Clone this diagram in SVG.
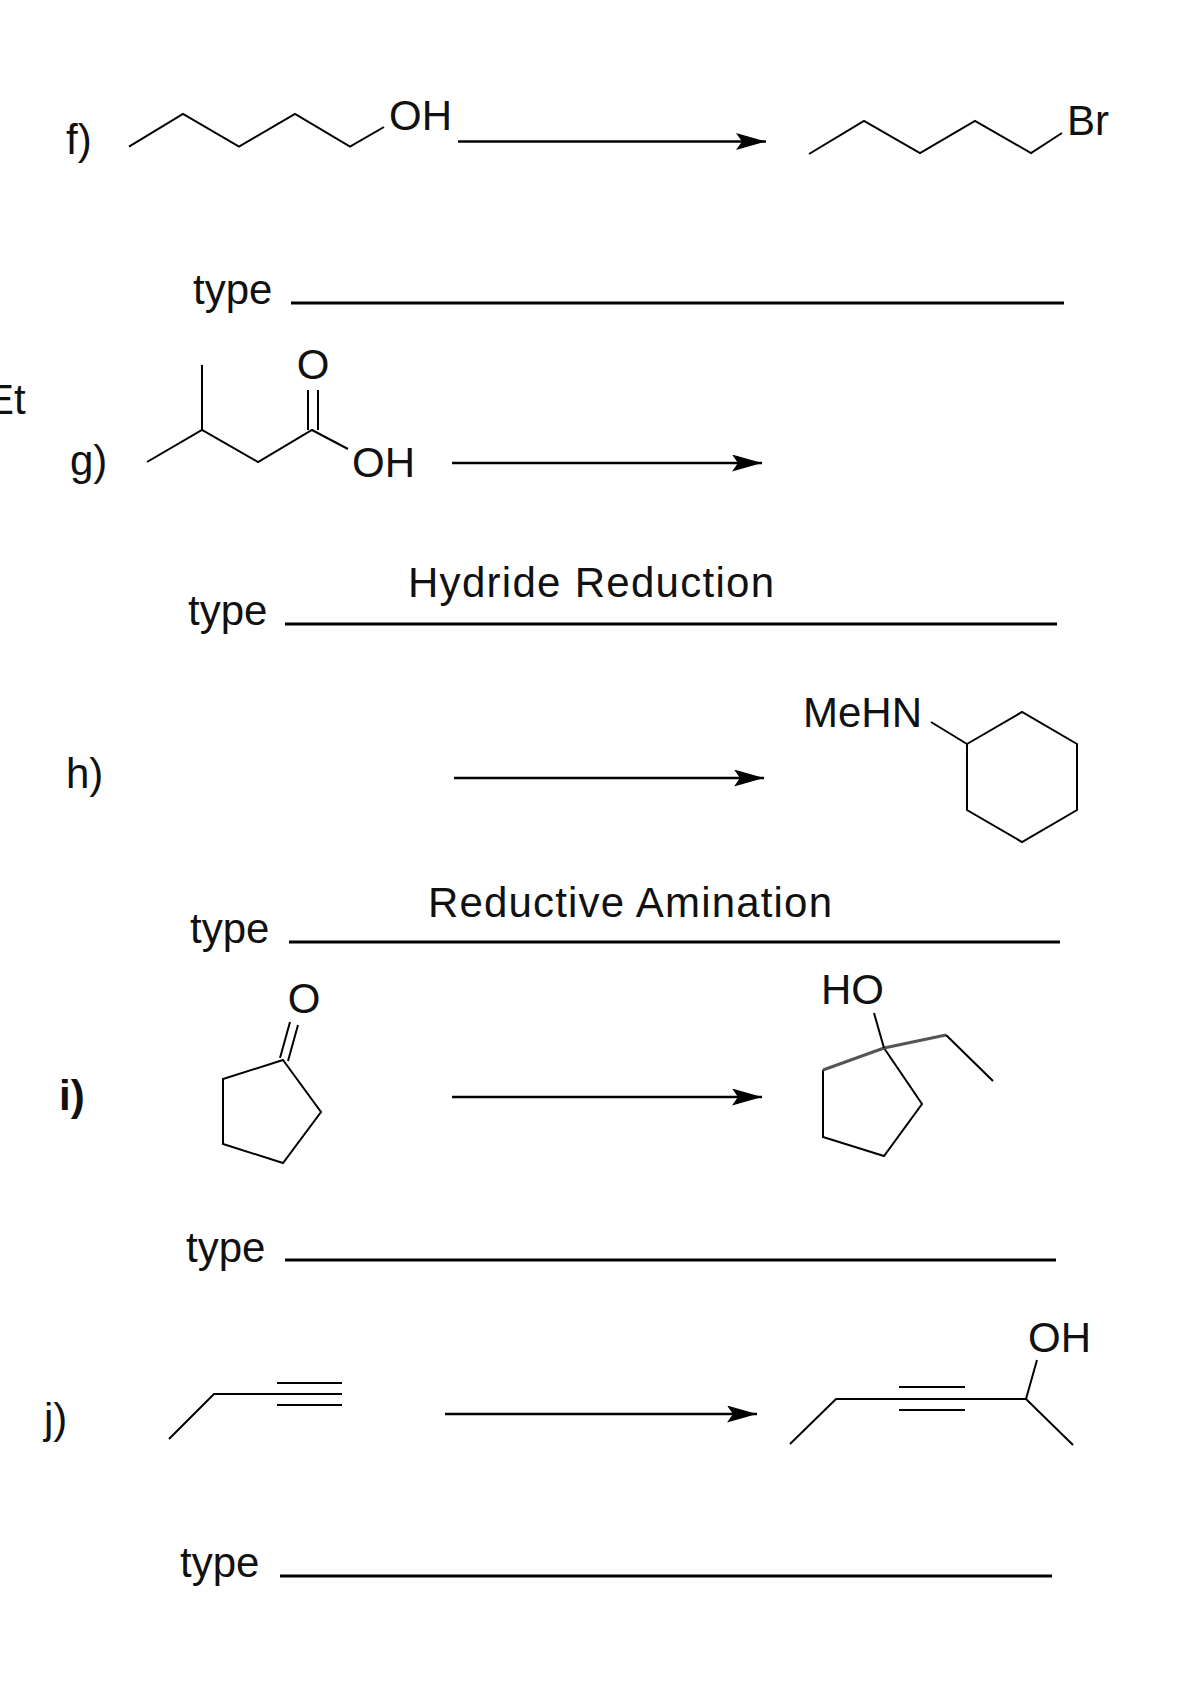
<svg xmlns="http://www.w3.org/2000/svg" width="1186" height="1708" viewBox="0 0 1186 1708">
<defs>
<marker id="ah" viewBox="0 0 10 10" refX="10" refY="5" markerWidth="30" markerHeight="17" markerUnits="userSpaceOnUse" orient="auto" preserveAspectRatio="none"><path d="M0,0 L10,5 L0,10 L2,5 z" fill="#000"/></marker>
</defs>
<style>
text{font-family:"Liberation Sans",Arial,sans-serif;font-size:42px;fill:#111}
.b{fill:none;stroke:#000;stroke-width:2;stroke-linejoin:miter}
.t{stroke:#000;stroke-width:3}
.a{stroke:#000;stroke-width:2.5;marker-end:url(#ah)}
</style>
<rect width="1186" height="1708" fill="#fff"/>
<g id="connectors">
<line class="a" x1="458" y1="141.5" x2="766" y2="141.5"/>
<line class="a" x1="452" y1="463" x2="762" y2="463"/>
<line class="a" x1="454" y1="778" x2="764" y2="778"/>
<line class="a" x1="452" y1="1097" x2="762" y2="1097"/>
<line class="a" x1="445" y1="1414" x2="757" y2="1414"/>
</g>
<g id="f">
<text x="66" y="154">f)</text>
<polyline class="b" points="129,146.6 183,114 239,146.6 295,114 350,146.6 384,127"/>
<text x="389" y="130">OH</text>
<polyline class="b" points="809,154 864,121 920,153 975,121 1031,153 1062,133"/>
<text x="1067" y="135">Br</text>
<text x="193" y="304" font-size="43">type</text>
<line class="t" x1="291" y1="303" x2="1064" y2="303"/>
</g>
<text x="-14" y="414">Et</text>
<g id="g">
<text x="70" y="475">g)</text>
<polyline class="b" points="147,462 202,430 258,462 312,430 348,449"/>
<line class="b" x1="202" y1="365" x2="202" y2="430"/>
<line class="b" x1="308" y1="390" x2="308" y2="430"/>
<line class="b" x1="318" y1="390" x2="318" y2="430"/>
<text x="313" y="379" text-anchor="middle">O</text>
<text x="352" y="477">OH</text>
<text x="408" y="597" textLength="366">Hydride Reduction</text>
<text x="188" y="625" font-size="43">type</text>
<line class="t" x1="285" y1="624" x2="1057" y2="624"/>
</g>
<g id="h">
<text x="66" y="788">h)</text>
<text x="803" y="727">MeHN</text>
<line class="b" x1="931" y1="722" x2="967" y2="744"/>
<polygon class="b" points="967,744 1022,712 1077,744 1077,810 1022,842 967,810"/>
<text x="428" y="917" textLength="404">Reductive Amination</text>
<text x="190" y="943" font-size="43">type</text>
<line class="t" x1="289" y1="942" x2="1060" y2="942"/>
</g>
<g id="i">
<text x="59" y="1110" font-weight="bold">i)</text>
<polygon class="b" points="283,1060 321,1112 283,1163 223,1144 223,1079"/>
<line class="b" x1="280" y1="1058" x2="290" y2="1022"/>
<line class="b" x1="288" y1="1061" x2="298" y2="1025"/>
<text x="304" y="1013" text-anchor="middle">O</text>
<polyline class="b" points="884,1048 922,1104 884,1156 823,1137 823,1070"/>
<polyline fill="none" stroke="#555" stroke-width="3" points="823,1070 884,1048 946,1035"/>
<line class="b" x1="946" y1="1035" x2="993" y2="1081"/>
<line class="b" x1="884" y1="1048" x2="874" y2="1013"/>
<text x="821" y="1004">HO</text>
<text x="186" y="1262" font-size="43">type</text>
<line class="t" x1="285" y1="1260" x2="1056" y2="1260"/>
</g>
<g id="j">
<text x="44" y="1433">j)</text>
<polyline class="b" points="169,1439 214,1394 342,1394"/>
<line class="b" x1="277" y1="1383" x2="342" y2="1383"/>
<line class="b" x1="277" y1="1405" x2="342" y2="1405"/>
<polyline class="b" points="790,1444 836,1399 1026,1399 1073,1445"/>
<line class="b" x1="899" y1="1387" x2="965" y2="1387"/>
<line class="b" x1="899" y1="1410" x2="965" y2="1410"/>
<line class="b" x1="1026" y1="1399" x2="1037" y2="1360"/>
<text x="1028" y="1352">OH</text>
<text x="180" y="1577" font-size="43">type</text>
<line class="t" x1="280" y1="1576" x2="1052" y2="1576"/>
</g>
</svg>
